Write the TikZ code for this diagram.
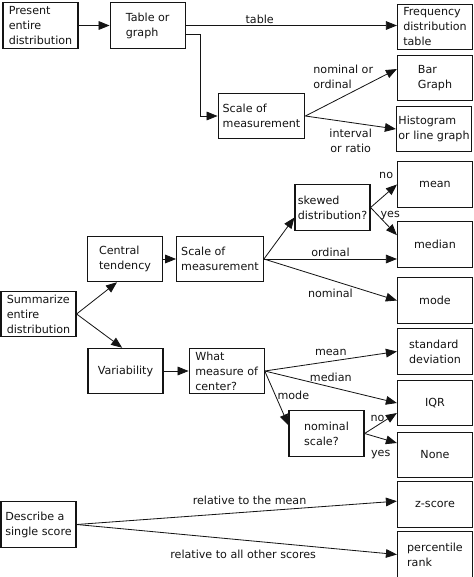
\documentclass[tikz,border=0pt]{standalone}
\usepackage{fontspec}
\setmainfont{DejaVu Sans}
\usetikzlibrary{
  arrows.meta,
  positioning,
  calc
}
\definecolor{ink}{HTML}{141414}
\tikzset{
  base/.style={
    text=ink,
    font=\fontsize{9.5}{12.8}\selectfont,
    align=left,
  },
  box/.style={
    base,
    draw=ink,
    fill=white,
    line width=1pt,
    minimum width=2.25cm,
    minimum height=1.36cm,
    inner xsep=1.5pt,
    inner ysep=3pt,
  },
  widebox/.style={
    box,
    minimum width=2.6cm,
  },
  flow/.style={
    -{Triangle[length=0.33cm, width=0.26cm]},
    line width=0.7pt,
    draw=ink,
  },
  elabel/.style={
    base,
    inner sep=1.5pt,
  },
}

\begin{document}
\begin{tikzpicture}[x=0.03cm, y=-0.03cm]

\useasboundingbox (0,0) rectangle (474,577);

% === PRESENT: table or graph ===

\node[box] (present) at (40.5,25.5) {Present\\entire\\distribution};
\node[box, right=0.93cm of present] (tabgraph) {Table or\\graph};
\node[widebox] (scaleA) at (261.5,116) {Scale of\\measurement};

\node[box] (freq) at (435,27) {Frequency\\distribution\\table};
\node[box] (bar) at (435,78) {Bar\\Graph};
\node[box] (hist) at (434,129) {Histogram\\or line graph};

\draw[flow] (present) -- (tabgraph);
\draw[flow] (tabgraph.east) -- (tabgraph.east -| freq.west)
  node[elabel, pos=0.35, above] {table};
\draw[flow] ([yshift=-0.27cm]tabgraph.east) -- ++(0.45cm,0) |- (scaleA.west);
\draw[flow] (scaleA.east) -- ([yshift=0.27cm]bar.west)
  node[elabel, pos=0.45, above, xshift=-0.1cm, yshift=0.12cm] {nominal or\\ordinal};
\draw[flow] (scaleA.east) -- (hist.west)
  node[elabel, align=center, pos=0.5, below, yshift=-0.12cm] {interval\\or ratio};

% === SUMMARIZE: center and spread ===

\node[box] (summ) at (38.5,314) {Summarize\\entire\\distribution};
\node[box] (central) at (125,259) {Central\\tendency};
\node[widebox, right=0.39cm of central] (scaleB) {Scale of\\measurement};
\node[box] (variab) at (125.5,371) {Variability};
\node[box, right=0.75cm of variab] (what) {What\\measure of\\center?};

\node[box] (skewed) at (332.5,207.5) {skewed\\distribution?};
\node[box] (nomscale) at (326.5,433.5) {nominal\\scale?};

\node[box] (mean) at (435,184.5) {mean};
\node[box] (median) at (435,244.5) {median};
\node[box] (mode) at (435,300.5) {mode};
\node[box] (stdev) at (435,351.5) {standard\\deviation};
\node[box] (iqr) at (435,403) {IQR};
\node[box] (none) at (435,455) {None};

\draw[flow] (summ.east) -- ([xshift=-0.24cm]central.south);
\draw[flow] (summ.east) -- ([xshift=-0.1cm]variab.north);
\draw[flow] (central) -- (scaleB);
\draw[flow] (variab) -- (what);

% central tendency
\draw[flow] (scaleB.east) -- ([yshift=-0.3cm]skewed.west);
\draw[flow] (scaleB.east) -- (scaleB.east -| median.west)
  node[elabel, midway, above] {ordinal};
\draw[flow] (scaleB.east) -- (mode.west)
  node[elabel, pos=0.5, below, yshift=-0.22cm] {nominal};
\draw[flow] (skewed.east) -- (mean.west)
  node[elabel, pos=1, above left, xshift=-0.05cm, yshift=0.1cm] {no};
\draw[flow] (skewed.east) -- ([yshift=0.28cm]median.west)
  node[elabel, pos=0.3, anchor=south west, yshift=-0.2cm] {yes};

% variability
\draw[flow] (what.east) -- (stdev.west)
  node[elabel, midway, above, yshift=0.1cm] {mean};
\draw[flow] (what.east) -- (iqr.west)
  node[elabel, midway, above, yshift=0.1cm] {median};
\draw[flow] (what.east) -- ([yshift=0.25cm]nomscale.west)
  node[elabel, pos=0.45, right] {mode};
\draw[flow] (nomscale.east) -- ([yshift=-0.3cm]iqr.west)
  node[elabel, pos=0.4, above, yshift=0.05cm] {no};
\draw[flow] (nomscale.east) -- ([yshift=0.36cm]none.west)
  node[elabel, pos=0.5, below, yshift=-0.3cm] {yes};

% === DESCRIBE: single score ===

\node[box] (describe) at (38.5,524.5) {Describe a\\single score};
\node[box] (zscore) at (435,504.5) {z-score};
\node[box] (pctrank) at (435,554.5) {percentile\\rank};

\draw[flow] (describe.east) -- ([yshift=0.1cm]zscore.west)
  node[elabel, pos=0.54, above, yshift=0.15cm] {relative to the mean};
\draw[flow] (describe.east) -- (pctrank.west)
  node[elabel, pos=0.52, below, yshift=-0.22cm] {relative to all other scores};

\end{tikzpicture}
\end{document}
